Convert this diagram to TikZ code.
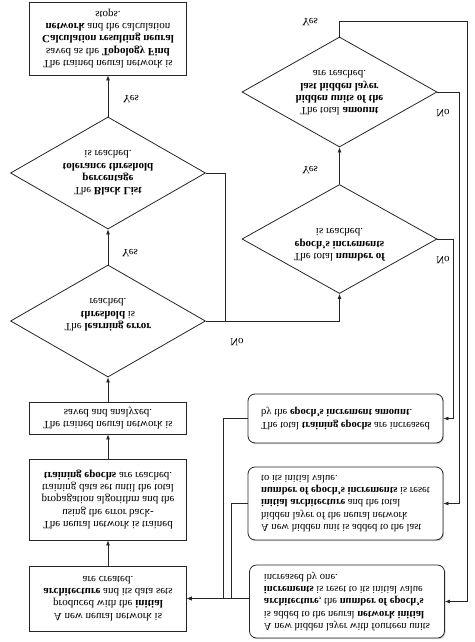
\documentclass[tikz,border=0pt]{standalone}
\usepackage{fontspec}
\setmainfont{Liberation Serif}
\usetikzlibrary{shapes.geometric,arrows.meta,shadows}
\begin{document}
\begin{tikzpicture}[x=1pt,y=1pt,yscale=-1,transform shape,
  font=\fontsize{11}{12.4}\selectfont,
  line/.style={draw=black!85, line width=0.8pt},
  arr/.style={line, -{Latex[length=5pt,width=4pt]}},
  box/.style={draw=black!85, line width=0.8pt, rectangle, align=center, inner sep=0pt, minimum width=157pt},
  dia/.style={draw=black!85, line width=0.8pt, diamond, inner sep=0pt, minimum width=195pt},
  dtext/.style={align=center, inner sep=0pt},
  rbox/.style={draw=black!85, line width=0.8pt, rounded corners=7pt, align=left, font=\fontsize{10.6}{12.4}\selectfont, inner xsep=0pt, inner ysep=0pt, minimum width=195pt, fill=white, drop shadow={shadow xshift=1.2pt, shadow yshift=-1.2pt, opacity=0.35}},
  lab/.style={inner sep=0pt}]
\useasboundingbox (0,0) rectangle (474,642);
% left column
\node[box, minimum height=65pt] (b1) at (108,598.5) {A new neural network is\\ produced with the \textbf{initial}\\ \textbf{architecture} and its data sets\\ are created.};
\node[box, minimum height=81pt] (b2) at (108,499.5) {The neural network is trained\\ using the error back-\\ propagation algorithm and the\\ training data set until the total\\ \textbf{training epochs} are reached.};
\node[box, minimum height=32pt] (b3) at (108,418) {The trained neural network is\\ saved and analyzed.};
\node[dia, minimum height=112pt] (dl) at (108,321) {};
\node[dtext] (dlt) at (108,315) {The \textbf{learning error}\\ \textbf{threshold} is\\ reached.};
\node[dia, minimum height=112pt] (db) at (108,173) {};
\node[dtext] (dbt) at (108,173) {The \textbf{Black List}\\ \textbf{percentage}\\ \textbf{tolerance threshold}\\ is reached.};
\node[box, minimum height=73pt] (bt) at (108,38.5) {The trained neural network is\\ saved as the \textbf{Topology Find}\\ \textbf{Calculation resulting neural}\\ \textbf{network} and the calculation\\ stops.};
% right column
\node[dia, minimum height=109pt] (de) at (339.5,239) {};
\node[dtext] (det) at (339.5,245) {The total \textbf{number of}\\ \textbf{epoch’s increments}\\ is reached.};
\node[dia, minimum height=110pt] (dh) at (339.5,92) {};
\node[dtext] (dht) at (339.5,93) {The total \textbf{amount}\\ \textbf{hidden units of the}\\ \textbf{last hidden layer}\\ are reached.};
\node[rbox, minimum height=49pt] (r1) at (345.5,418.5) {The total \textbf{training epochs} are increased\\ by the \textbf{epoch’s increment amount}.};
\node[rbox, minimum height=73pt] (r2) at (345.5,503.5) {A new hidden unit is added to the last\\ hidden layer of the neural network\\ \textbf{initial architecture} and the total\\ \textbf{number of epoch’s increments} is reset\\ to its initial value.};
\node[rbox, minimum height=73pt] (r3) at (347,601.5) {A new hidden layer with fourteen units\\ is added to the neural \textbf{network initial}\\ \textbf{architecture}, the \textbf{number of epoch’s}\\ \textbf{increments} is reset to its initial value\\ increased by one.};
% connectors
\draw[arr] (b1.south) -- (b2.north);
\draw[arr] (b2.south) -- (b3.north);
\draw[arr] (b3.south) -- (dl.north);
\draw[arr] (dl.south) -- (db.north);
\draw[arr] (db.south) -- (bt.north);
\coordinate (j1) at (225,321);
\draw[arr] (dl.east) -| (de.north);
\draw[line] (db.east) -| (j1);
\draw[arr] (de.south) -- (dh.north);
\coordinate (c3) at (467,21);
\draw[arr] (dh.south) |- (c3) |- (r3.east);
\draw[arr] (dh.east) -- ++(22,0) |- (r2.east);
\draw[arr] (de.east) -- ++(16,0) |- (r1.east);
\draw[arr] (r1.west) -- ++(-24,0) |- (b1.east);
\draw[arr] (r2.west) -- ++(-16,0) |- (b1.east);
\draw[arr] (r3.west |- b1.east) -- (b1.east);
% labels
\node[lab] (y1) at (130,253) {Yes};
\node[lab] (y2) at (131,99) {Yes};
\node[lab] (n1) at (237,342) {No};
\node[lab] (y3) at (310,170) {Yes};
\node[lab] (y4) at (310,22) {Yes};
\node[lab] (n2) at (443,113) {No};
\node[lab] (n3) at (443,260) {No};
\end{tikzpicture}
\end{document}
